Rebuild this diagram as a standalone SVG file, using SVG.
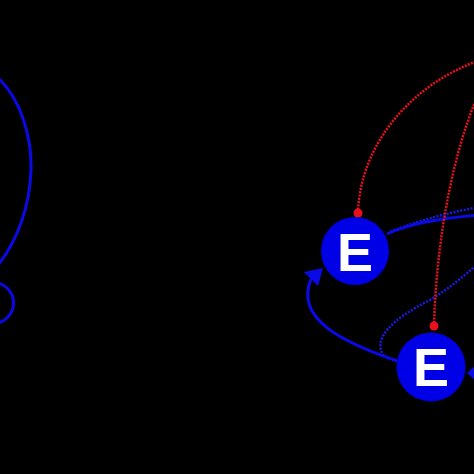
<svg xmlns="http://www.w3.org/2000/svg" width="474" height="474" viewBox="0 0 474 474">
<style>
.solid{fill:none;stroke:#0a0ae6;stroke-width:3}
.bdot{fill:none;stroke:#1a1ae6;stroke-width:2.5;stroke-dasharray:2 1.5}
.rdot{fill:none;stroke:#e8101c;stroke-width:2.5;stroke-dasharray:2 1.3}
.node circle{fill:#0000e6}
.node text{fill:#fff;font-family:"Liberation Sans",Arial,sans-serif;font-weight:bold;font-size:54px;text-anchor:middle}
.head{fill:#0a0ae6}
.dot{fill:#e8101c}
</style>
<rect width="474" height="474" fill="#000"/>
<g id="connectors">
<path class="solid" d="M -2 78 C 22 100, 32 140, 31 170 C 30 205, 18 240, -2 265"/>
<circle class="solid" cx="-7" cy="303" r="20.5"/>
<path class="bdot" d="M 390 232 C 420 220, 450 212, 480 207"/>
<path class="solid" d="M 387 234 C 410 223, 440 218, 480 215"/>
<path class="bdot" d="M 384 356 C 372 340, 390 320, 430 300 C 450 288, 465 275, 480 262"/>
<path class="solid" d="M 397 361 C 345 343, 294 320, 311 279"/>
<polygon class="head" points="323,268 304,272 318,286"/>
<polygon class="head" points="467,373 476,365 476,381"/>
<path class="rdot" d="M 358 213 C 360 145, 410 85, 480 60"/>
<path class="rdot" d="M 434 326 C 436 250, 450 160, 478 95"/>
<circle class="dot" cx="358" cy="213" r="4.5"/>
<circle class="dot" cx="434" cy="326" r="4.5"/>
</g>
<g id="node1" class="node">
<circle cx="355" cy="251" r="34"/>
<text x="355" y="270.5">E</text>
</g>
<g id="node2" class="node">
<circle cx="431" cy="367" r="34.5"/>
<text x="431" y="385.5">E</text>
</g>
</svg>
